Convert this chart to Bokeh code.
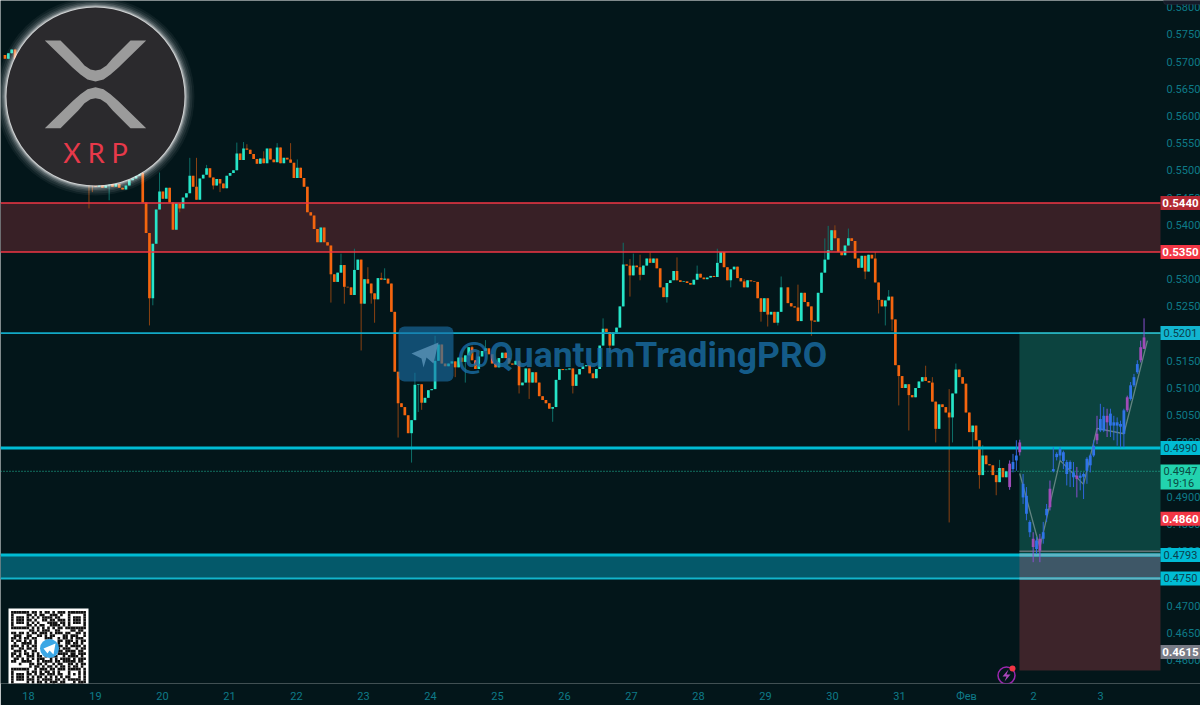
from bokeh.plotting import figure
from bokeh.embed import file_html
from bokeh.resources import INLINE
from bokeh.models import Range1d, FixedTicker, NumeralTickFormatter, BoxAnnotation
from bokeh.core.properties import value

# ---- chart data (prices in units of 0.0001) ----
BARS_PER_DAY = 19.94
day_ticks = list(range(17))
day_labels = ["18","19","20","21","22","23","24","25","26","27","28","29","30","31","Фев","2","3"]
price_ticks = [0.46,0.465,0.47,0.475,0.48,0.485,0.49,0.495,0.50,0.505,0.51,0.515,0.52,0.525,0.53,0.535,0.54,0.545,0.55,0.555,0.56,0.565,0.57,0.575,0.58]

first_bar = -8
closes = [
 5712,5705,5715,5722,5705,5700,5690,5680,
 5675,5660,5650,5640,5630,5625,5615,5605,5590,5580,5570,5565,5550,5540,5530,5520,5510,5505,5495,5480,
 5470,5475,5468,5472,5478,5470,5475,5468,5465,5472,5482,5485,5490,5495,5441,5385,5265,5365,5428,5461,
 5448,5468,5441,5391,5439,5430,5450,5458,5490,5470,5446,5485,5492,5504,5487,5472,5484,5476,5467,5490,
 5495,5500,5531,5519,5540,5538,5530,5521,5512,5522,5513,5540,5520,5515,5542,5513,5523,5520,5514,5486,
 5505,5486,5470,5423,5417,5392,5368,5395,5368,5362,5309,5295,5312,5326,5286,5285,5271,5317,5336,5255,
 5300,5292,5274,5263,5302,5299,5301,5292,5240,5130,5072,5065,5050,5017,5041,5106,5107,5073,5082,5096,
 5098,5150,5180,5145,5140,5145,5149,5138,5156,5148,5160,5175,5151,5135,5158,5168,5173,5162,5145,5138,
 5155,5165,5155,5145,5143,5150,5105,5110,5136,5110,5129,5110,5085,5078,5072,5062,5065,5115,5135,5133,
 5134,5136,5104,5125,5135,5140,5142,5127,5118,5135,5178,5209,5203,5178,5202,5211,5250,5327,5325,5307,
 5325,5322,5308,5325,5338,5330,5338,5320,5285,5267,5293,5298,5315,5298,5295,5296,5293,5290,5299,5310,
 5303,5300,5303,5306,5304,5330,5350,5322,5298,5318,5323,5302,5296,5285,5298,5296,5295,5265,5240,5265,
 5235,5240,5220,5240,5285,5285,5256,5250,5248,5223,5275,5258,5250,5224,5222,5275,5312,5336,5353,5390,
 5375,5350,5344,5362,5375,5370,5338,5321,5343,5314,5345,5338,5294,5262,5250,5261,5268,5226,5142,5122,
 5100,5107,5087,5083,5100,5112,5120,5113,5110,5075,5025,5070,5065,5055,5046,5090,5134,5120,5108,5055,
 5019,5031,5004,4940,4976,4960,4958,4940,4927,4953,4936,4947,
]
wick_high = {34:5500,39:5496,48:5523,50:5523,53:5510,62:5551,64:5552,65:5548,70:5535,74:5550,78:5550,80:5520,
 93:5347,97:5356,101:5322,105:5312,106:5320,115:5128,121:5196,132:5178,136:5188,171:5228,177:5367,179:5337,
 180:5347,182:5345,185:5349,193:5340,199:5325,205:5356,213:5300,224:5305,229:5290,237:5375,238:5398,240:5399,
 244:5393,252:5350,256:5280,267:5141,269:5120,274:5098,276:5145,284:4995,289:4968}
wick_low = {18:5430,19:5460,24:5445,36:5215,37:5252,45:5423,55:5465,57:5460,90:5257,94:5255,99:5169,102:5255,
 103:5220,110:5009,114:4963,116:5056,117:5060,127:5120,130:5110,146:5090,149:5080,156:5038,162:5090,173:5165,
 179:5268,182:5298,190:5257,209:5285,218:5222,220:5213,223:5215,233:5196,249:5300,253:5237,255:5215,257:5205,
 259:5068,262:5022,270:5000,274:4853,275:5000,281:4990,283:4915,288:4903}

blue_first_bar = 292
blue_top = [4961,4964,4976,5000,4924,4902,4854,4823,4820,4823,4835,4878,4915,4951,4979,4988,4982,4964,4964,4945,4939,4939,4942,4970,4976,4994,5016,5043,5049,5049,5053,5037,5037,5034,5059,5083,5105,5120,5144,5175,5193]
blue_bot = [4918,4951,4967,4982,4899,4869,4835,4808,4804,4801,4823,4866,4881,4947,4973,4976,4966,4942,4951,4936,4933,4935,4937,4948,4958,4976,5004,5022,5022,5037,5031,5031,5031,5029,5016,5059,5080,5105,5129,5151,5172]
blue_high = [4967,4979,5004,5005,4942,4918,4857,4835,4826,4832,4854,4887,4930,4991,4982,4991,4985,4968,4967,4964,4955,4945,4945,4973,4979,5004,5049,5071,5065,5062,5062,5049,5046,5040,5062,5086,5111,5126,5151,5187,5228]
blue_low = [4913,4945,4948,4976,4887,4857,4826,4780,4795,4780,4814,4854,4875,4945,4967,4967,4951,4921,4918,4918,4899,4912,4896,4924,4945,4973,4997,5019,5019,5010,5010,5004,4994,4991,4991,5056,5077,5102,5126,5147,5172]
purple_bars = [0,3,7,9,12,20,26,29,35,39,40]

path_bars = [295,301,307,314,318,326,333]
path_prices = [0.4943,0.4807,0.4967,0.4923,0.5026,0.5016,0.5187]

zone_red = (0.5350, 0.5440)
zone_teal = (0.4750, 0.4793)
lines_cyan = [0.5201, 0.4990]
last_price = 0.4947
last_countdown = "19:16"
pos_entry, pos_target, pos_stop = 0.4793, 0.5201, 0.4581
pos_start_day = 14.79

BG = "#03161a"
UP, DOWN = "#26e5c8", "#f4650f"
UPW, DOWNW = "#0e6f68", "#8a4212"
CYAN = "#00bcd4"
RED = "#f23645"

# ---- scales: pixel geometry of the frame ----
FW, FH = 1200, 683
AXIS_PX = 1160
X0, PXDAY = 28.0, 67.0
Y_REF, PXUNIT = 202.5, 5442.0
x_start, x_end = -X0/PXDAY, (FW-X0)/PXDAY
y_top, y_bot = 0.544+Y_REF/PXUNIT, 0.544-(FH-Y_REF)/PXUNIT

def px(x): return (x-X0)/PXDAY
def py(y): return 0.544-(y-Y_REF)/PXUNIT
x_chart_end = px(AXIS_PX)

p = figure(width=1200, height=705, frame_width=FW, frame_height=FH, output_backend="svg", toolbar_location=None,
           x_range=Range1d(x_start, x_end), y_range=Range1d(y_bot, y_top),
           background_fill_color=BG, border_fill_color=BG, outline_line_color=None,
           min_border=0, y_axis_location="right")
p.margin = (0, 0, 0, 0)
p.grid.visible = False

for ax in (p.xaxis[0], p.yaxis[0]):
    ax.axis_line_color = None
    ax.major_tick_line_color = None
    ax.minor_tick_line_color = None
    ax.major_label_text_color = "#0e7a88"
    ax.major_label_text_font = "Roboto"
    ax.major_label_text_font_size = "11px"
    ax.major_label_standoff = 0
p.xaxis[0].ticker = FixedTicker(ticks=day_ticks)
p.xaxis[0].major_label_overrides = dict(zip(day_ticks, day_labels))
p.yaxis[0].ticker = FixedTicker(ticks=price_ticks)
p.yaxis[0].formatter = NumeralTickFormatter(format="0.0000")
p.yaxis[0].fixed_location = x_chart_end

# zones
p.quad(left=x_start, right=x_chart_end, bottom=zone_red[0], top=zone_red[1], fill_color="#382026", line_color=None)
p.quad(left=x_start, right=x_chart_end, bottom=zone_teal[0], top=zone_teal[1], fill_color="#04596a", line_color=None)
# position box
p.quad(left=pos_start_day, right=x_chart_end, bottom=pos_entry, top=pos_target, fill_color="#22ab94", fill_alpha=0.3, line_color=None)
p.quad(left=pos_start_day, right=x_chart_end, bottom=pos_stop, top=pos_entry, fill_color="#f7525f", fill_alpha=0.24, line_color=None)

# candles
bars = [first_bar+k for k in range(len(closes))]
opens = [closes[0]] + closes[:-1]
t = [b/BARS_PER_DAY for b in bars]
hi = [max(o, c, wick_high.get(b, 0))/1e4 for b, o, c in zip(bars, opens, closes)]
lo = [min(o, c, wick_low.get(b, 99999))/1e4 for b, o, c in zip(bars, opens, closes)]
top = [max(o, c)/1e4 for o, c in zip(opens, closes)]
bot = [min(o, c)/1e4 for o, c in zip(opens, closes)]
body_col = [UP if c >= o else DOWN for o, c in zip(opens, closes)]
wick_col = [UPW if c >= o else DOWNW for o, c in zip(opens, closes)]
p.segment(t, hi, t, lo, line_color=wick_col, line_width=1)
p.vbar(x=t, top=top, bottom=bot, width=2.7/PXDAY, fill_color=body_col, line_color=None)

# levels
p.line([x_start, x_chart_end], [last_price]*2, line_color="#22c4a4", line_width=1, line_dash="1 2")
for lv in zone_red:
    p.line([x_start, x_chart_end], [lv]*2, line_color=RED, line_width=1.6)
p.line([x_start, x_chart_end], [lines_cyan[0]]*2, line_color="#12a9c6", line_width=1.8)
p.line([x_start, x_chart_end], [lines_cyan[1]]*2, line_color=CYAN, line_width=3)
p.line([x_start, x_chart_end], [zone_teal[1]]*2, line_color=CYAN, line_width=3)
p.line([x_start, x_chart_end], [zone_teal[0]]*2, line_color="#12b5cc", line_width=2)
p.line([pos_start_day, x_chart_end], [pos_target]*2, line_color="#3fb8b0", line_width=1.5, line_alpha=.6)
p.line([pos_start_day, x_chart_end], [0.4800]*2, line_color="#7a7f85", line_width=1.5, line_alpha=.8)
p.line([pos_start_day, x_chart_end], [zone_teal[1]]*2, line_color="#5fb4c4", line_width=3)
p.line([pos_start_day, x_chart_end], [zone_teal[0]]*2, line_color="#5fb4c4", line_width=2)

# projected path
bt = [(blue_first_bar+k)/BARS_PER_DAY for k in range(len(blue_top))]
p.line([b/BARS_PER_DAY for b in path_bars], path_prices, line_color="#7f9a98", line_alpha=.75, line_width=1.3)
bcol = ["#a04cb8" if k in purple_bars else "#2f74e8" for k in range(len(blue_top))]
p.segment(bt, [v/1e4 for v in blue_high], bt, [v/1e4 for v in blue_low], line_color=["#8a4fd0" if k in purple_bars else "#2f66dd" for k in range(len(blue_top))], line_width=1)
p.vbar(x=bt, top=[v/1e4 for v in blue_top], bottom=[v/1e4 for v in blue_bot], width=2.8/PXDAY, fill_color=bcol, line_color=None)

# watermark
p.add_layout(BoxAnnotation(left=px(398), right=px(453), top=py(326), bottom=py(381), fill_color="#1a6fa8", fill_alpha=0.62, line_color=None, border_radius=6))
p.patch([px(v) for v in (411,438,433,426,423,421)], [py(v) for v in (353,342,363,357,367,358)], fill_color="#b9c4ca", fill_alpha=.85, line_color=None)
p.text([px(457)], [py(354)], ["@QuantumTradingPRO"], text_font=value("Roboto"), text_font_style="bold",
       text_font_size="35.5px", text_color="#1a6fa8", text_alpha=0.8, text_baseline="middle", text_align="left")

# XRP logo
cx, cy = px(95), py(96)
for r, a in ((99,.05),(97,.07),(95,.09),(93.5,.14),(92,.2),(91,.3),(90,.5)):
    p.scatter([cx], [cy], size=2*r, marker="circle", fill_color="#ffffff", fill_alpha=a, line_color=None)
p.scatter([cx], [cy], size=178, marker="circle", fill_color="#2b2a2d", line_color=None)
up_x = (44.3,60,78,84,90,95,100,106,112,130,145.7,118,110,103,95,87,80,72)
up_y = (40,40,58,65,69,70,69,65,58,40,40,67,74,79,81,79,74,67)
p.patch([px(v) for v in up_x], [py(v) for v in up_y], fill_color="#9b9b9b", line_color=None)
p.patch([px(v) for v in up_x], [py(167.7-v) for v in up_y], fill_color="#9b9b9b", line_color=None)
p.text([px(95)], [py(152)], ["X R P"], text_font=value("Lato"), text_font_size="27px", text_color="#e8394a", text_align="center", text_baseline="middle")

# QR
qr = [
"#######.##.#.##.#.###.#######",
"#.....##.#.##..###.#..#.....#",
"#.###.#.#.#.####.##...#.###.#",
"#.###.##.#..##.##.###.#.###.#",
"#.###.#.#.#...####.##.#.###.#",
"#.....##.#.##..####.#.#.....#",
"#######.#.#.#.#.#.##.########",
".......##.#.###..##....##.##.",
"##.##.#.##.###.#.###.##..##.#",
".###..##..##.#.##...##.###..#",
"##.#.##.##...###..#.##.#.###.",
"#.##.#.#.#........##.###.#.##",
".#..####.#........#..##.##.#.",
"###.#.#.##........##.#.####.#",
"#..##.##.#........#.###..#.##",
".###.#..##........##.####.##.",
"##.#.##.#.#.....#.####.##.###",
"#.##..###.##.#.###..#.####.#.",
".##.#.#.#.###..#.#.####.#.###",
"##..####..#.####.##.#####.##.",
"...#...##.##.#..#.##..##.#.##",
".......#.##.#.##.#.##.#.##.#.",
"#######..#.###.##.###.#####.#",
"#.....#.##.#.##.#.#...#...#.#",
"#.###.##.#.##.###.##..#.#.#.#",
"#.###.#.#.##.#.#.#.#.##...#.#",
"#.###.###.#.####.##.#.#####.#",
"#.....#.#.##.#.###.##...#.###",
"#######.#.##.##.#.###..##.##.",
]
QX, QY, QS = 8.0, 608.0, 80.0/31
p.quad(left=px(QX), right=px(QX+80), top=py(QY), bottom=py(QY+80), fill_color="#ffffff", line_color=None)
L, R, T, B = [], [], [], []
for j, row in enumerate(qr):
    for k, ch in enumerate(row):
        if ch == "#":
            L.append(px(QX+QS*(k+1))); R.append(px(QX+QS*(k+2))); T.append(py(QY+QS*(j+1))); B.append(py(QY+QS*(j+2)))
p.quad(left=L, right=R, top=T, bottom=B, fill_color="#111111", line_color=None)
p.scatter([px(49)], [py(648)], size=19, marker="circle", fill_color="#3ba7e5", line_color=None)
p.patch([px(v) for v in (43,55,53,49,47)], [py(v) for v in (648,643,654,650,653)], fill_color="#ffffff", line_color=None)

# alert icon
p.scatter([px(1006)], [py(675)], size=17, marker="circle", fill_color=None, line_color="#9c27b0", line_width=1.5)
p.patch([px(v) for v in (1008,1002,1006,1004,1010,1006)], [py(v) for v in (669,676,676,681,674,674)], fill_color="#ab47bc", line_color=None)
p.scatter([px(1012)], [py(668)], size=6, marker="circle", fill_color="#f23645", line_color=None)

# axis tags, above the axis labels
TL, TR, TC = px(AXIS_PX), px(1200), px(1180)
def tag(v, bg, fg, bold=False):
    p.quad(left=TL, right=TR, top=v+7/PXUNIT, bottom=v-7/PXUNIT, fill_color=bg, line_color=None, level="overlay")
    p.text([TC], [v], [f"{v:.4f}"], text_align="center", text_baseline="middle", text_color=fg, text_font=value("Roboto"),
           text_font_size="11.5px" if bold else "11px", text_font_style="bold" if bold else "normal", level="overlay")

tag(0.5440, "#b22833", "#ffffff", True)
tag(0.5350, RED, "#ffffff", True)
tag(0.5201, "#12b5d0", "#0b3f4c")
tag(0.4990, "#00bcd4", "#0b3f4c")
tag(0.4860, RED, "#ffffff", True)
tag(0.4793, "#00bcd4", "#0b3f4c")
tag(0.4750, "#00bcd4", "#0b3f4c")
tag(0.4615, "#787b86", "#ffffff", True)
p.quad(left=TL, right=TR, top=py(464), bottom=py(489), fill_color="#22d3ae", line_color=None, level="overlay")
p.text([TC], [py(470.5)], [f"{last_price:.4f}"], text_align="center", text_baseline="middle", text_color="#0b4a42", text_font=value("Roboto"), text_font_size="11px", level="overlay")
p.text([TC], [py(483)], [last_countdown], text_align="center", text_baseline="middle", text_color="#0b4a42", text_font=value("Roboto"), text_font_size="11px", level="overlay")

# corner button at the top of the axis
p.add_layout(BoxAnnotation(left=px(1163), right=px(1204), top=py(-6), bottom=py(4), fill_color="#151a28", fill_alpha=1, line_color="#3a3d4d", line_width=1, border_radius=3, level="overlay"))

open("out.html", "w").write(file_html(p, INLINE))
